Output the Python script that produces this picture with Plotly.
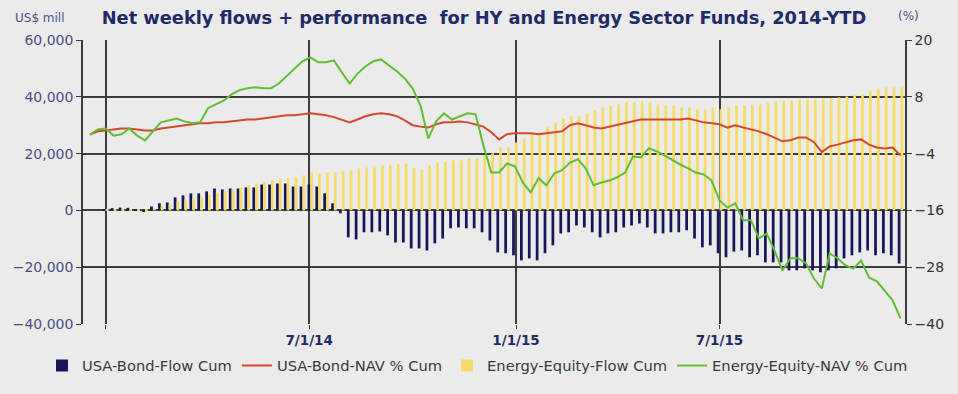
import pandas as pd
import plotly.graph_objects as go

dates = pd.date_range("2013-12-18", periods=104, freq="7D")

usa_bond_flow_cum = [
    0, 0, 500, 800, 1000, 900, 500, -500, 1400, 2500,
    2800, 4600, 5300, 6000, 6000, 6700, 7700, 7400, 7700, 7700,
    8100, 8100, 9100, 9100, 9500, 9500, 8400, 8400, 9100, 8400,
    6000, 2500, -1000, -9500, -10200, -7700, -7700, -7400, -8800, -11300,
    -11300, -13400, -13400, -14100, -11600, -9900, -6300, -6000, -6300, -6300,
    -7700, -10600, -14800, -15100, -15800, -17600, -16900, -17600, -15100, -12300,
    -8100, -7700, -5300, -6000, -7700, -9500, -8100, -7700, -6000, -5300,
    -4600, -6000, -8100, -8100, -7700, -7700, -7000, -9900, -13000, -12300,
    -15100, -16500, -14500, -14100, -16500, -15800, -18300, -18300, -18300, -21100,
    -21100, -20400, -21100, -21800, -21100, -20400, -16900, -15800, -14800, -14100,
    -15800, -15100, -15800, -18700,
]

energy_equity_flow_cum = [
    0, 0, 300, 500, 600, 500, 400, 300, 800, 1500,
    2000, 3000, 3500, 4200, 4800, 5500, 6200, 6800, 7400, 8000,
    8800, 9400, 10000, 10600, 11000, 11300, 11600, 12300, 13400, 13000,
    13400, 13400, 13800, 14100, 14800, 15100, 15100, 15800, 15800, 16200,
    16500, 15000, 14500, 15800, 16900, 17200, 17600, 17600, 18300, 18300,
    19400, 20100, 22200, 22200, 23900, 25400, 27100, 27500, 29200, 31000,
    32400, 33100, 33100, 34200, 35200, 36300, 37000, 37300, 38000, 38000,
    38400, 38000, 37300, 37000, 37000, 36300, 36300, 35600, 35600, 36300,
    35600, 36300, 37000, 37000, 37300, 37300, 38000, 38400, 38700, 38700,
    39100, 39100, 39100, 39400, 39400, 39800, 40100, 40500, 40800, 42200,
    42900, 43300, 43300, 43300,
]

usa_bond_nav_pct_cum = [
    0.0, 0.7, 0.9, 1.1, 1.3, 1.3, 1.1, 0.9, 0.9, 1.3,
    1.5, 1.7, 2.0, 2.2, 2.4, 2.4, 2.6, 2.6, 2.8, 3.0,
    3.2, 3.2, 3.4, 3.7, 3.9, 4.1, 4.1, 4.3, 4.5, 4.3,
    4.1, 3.7, 3.2, 2.6, 3.2, 3.9, 4.3, 4.5, 4.3, 3.9,
    3.0, 2.0, 1.7, 1.5, 2.2, 2.6, 2.6, 2.8, 2.6, 2.2,
    1.7, 0.5, -1.0, 0.1, 0.3, 0.3, 0.3, 0.1, 0.3, 0.5,
    0.7, 2.0, 2.4, 2.0, 1.5, 1.3, 1.7, 2.0, 2.4, 2.8,
    3.2, 3.2, 3.2, 3.2, 3.2, 3.2, 3.4, 3.0, 2.6, 2.4,
    2.2, 1.5, 2.0, 1.5, 1.1, 0.7, 0.1, -0.6, -1.4, -1.2,
    -0.6, -0.6, -1.6, -3.7, -2.5, -2.1, -1.6, -1.2, -1.0, -2.1,
    -2.7, -2.9, -2.7, -4.4,
]

energy_equity_nav_pct_cum = [
    0.0, 1.1, 1.3, -0.2, 0.1, 1.3, -0.2, -1.2, 0.7, 2.6,
    3.0, 3.4, 2.8, 2.4, 2.6, 5.6, 6.4, 7.2, 8.5, 9.4,
    9.8, 10.0, 9.8, 9.8, 10.8, 12.3, 14.0, 15.5, 16.3, 15.3,
    15.3, 15.7, 13.2, 10.8, 12.9, 14.4, 15.5, 15.9, 14.6, 13.4,
    11.9, 9.8, 6.2, -0.8, 2.8, 4.5, 3.2, 3.9, 4.5, 4.3,
    -2.3, -8.0, -8.0, -6.1, -6.7, -10.1, -12.2, -9.2, -10.7, -8.2,
    -7.5, -5.9, -5.2, -7.1, -10.7, -10.1, -9.7, -9.0, -8.0, -4.6,
    -4.8, -2.9, -3.5, -4.4, -5.4, -6.3, -7.1, -8.0, -8.4, -9.7,
    -13.9, -15.4, -14.5, -18.1, -18.1, -21.9, -20.9, -24.5, -28.7, -26.1,
    -26.1, -27.2, -30.4, -32.5, -25.1, -26.1, -27.6, -28.3, -26.6, -30.2,
    -31.0, -32.9, -35.0, -38.8,
]

x_tickvals = ["2014-01-01", "2014-07-01", "2015-01-01", "2015-07-01"]
x_ticktext = ["", "<b>7/1/14</b>", "<b>1/1/15</b>", "<b>7/1/15</b>"]
left_ticks = [-40000, -20000, 0, 20000, 40000, 60000]
right_ticks = [-40, -28, -16, -4, 8, 20]

BG = "#ebebeb"
GRID = "#3c3c3c"
FONT = "DejaVu Sans, Verdana, sans-serif"
NAVY_TXT = "#1f2a66"
SLATE = "#4b5080"

fig = go.Figure()
fig.add_trace(go.Bar(x=dates, y=usa_bond_flow_cum, name="USA-Bond-Flow Cum",
                     marker=dict(color="#16165a", line=dict(width=0))))
fig.add_trace(go.Scatter(x=dates, y=usa_bond_nav_pct_cum, name="USA-Bond-NAV % Cum",
                         mode="lines", line=dict(color="#d4492c", width=2), yaxis="y2"))
fig.add_trace(go.Bar(x=dates, y=energy_equity_flow_cum, name="Energy-Equity-Flow Cum",
                     marker=dict(color="#f6dc66", line=dict(width=0))))
fig.add_trace(go.Scatter(x=dates, y=energy_equity_nav_pct_cum, name="Energy-Equity-NAV % Cum",
                         mode="lines", line=dict(color="#62bd33", width=2), yaxis="y2"))

fig.update_layout(
    width=958, height=394,
    margin=dict(l=83, r=53, t=40, b=70),
    paper_bgcolor=BG, plot_bgcolor=BG,
    font=dict(family=FONT, color="#333333"),
    barmode="group", bargap=0.3, bargroupgap=0.0,
    title=dict(text="<b>Net weekly flows + performance  for HY and Energy Sector Funds, 2014-YTD</b>",
               x=(484 - 83) / 822, xref="paper", xanchor="center", y=0.955, yanchor="middle",
               font=dict(size=17.8, color=NAVY_TXT, family=FONT)),
    xaxis=dict(type="date", range=["2013-12-11 20:00", "2015-12-13"],
               tickvals=x_tickvals, ticktext=x_ticktext,
               showgrid=True, gridcolor=GRID, gridwidth=1.5,
               ticks="outside", ticklen=4, tickcolor=GRID,
               tickfont=dict(size=13.5, color=NAVY_TXT, family=FONT),
               showline=False, zeroline=False),
    yaxis=dict(range=[-40000, 60000], tickvals=left_ticks, tickformat=",",
               showgrid=True, gridcolor=GRID, gridwidth=1.5,
               zeroline=False, showline=True, linecolor=GRID, linewidth=1.5,
               ticks="outside", ticklen=5, tickcolor=GRID,
               tickfont=dict(size=14, color=SLATE, family=FONT)),
    yaxis2=dict(range=[-40, 20], tickvals=right_ticks, overlaying="y", side="right",
                showgrid=False, zeroline=False, showline=True, linecolor=GRID, linewidth=1.5,
                ticks="outside", ticklen=5, tickcolor=GRID,
                tickfont=dict(size=14, color="#333333", family=FONT)),
    legend=dict(orientation="h", x=(42 - 83) / 822, xanchor="left",
                y=-(366 - 324) / 284, yanchor="middle",
                font=dict(size=14.7, color="#3a3a3a", family=FONT),
                itemwidth=30, bgcolor="rgba(0,0,0,0)", traceorder="normal"),
    annotations=[
        dict(text="US$ mill", xref="paper", yref="paper", x=(13 - 83) / 822, y=(324 - 18) / 284,
             xanchor="left", yanchor="middle", showarrow=False,
             font=dict(size=12, color=SLATE, family=FONT)),
        dict(text="(%)", xref="paper", yref="paper", x=(908 - 83) / 822, y=(324 - 16) / 284,
             xanchor="center", yanchor="middle", showarrow=False,
             font=dict(size=12, color=SLATE, family=FONT)),
    ],
)

fig.write_html(
    "out.html",
    config={"displayModeBar": False},
    post_script="document.body.style.margin='0';document.body.style.background='#ebebeb';",
)
